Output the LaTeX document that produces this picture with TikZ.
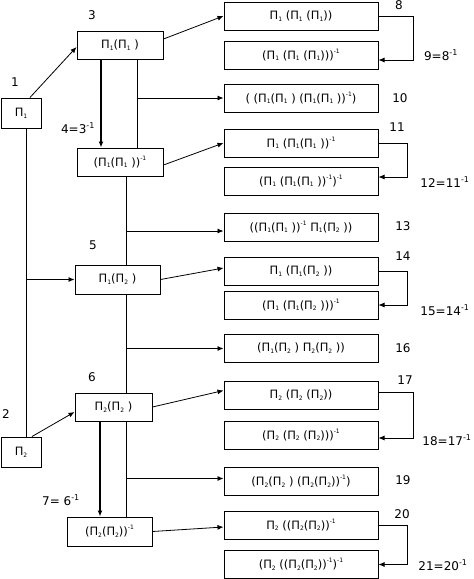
\documentclass[tikz,border=0pt]{standalone}
\usepackage{fontspec}
\setmainfont{DejaVu Sans}
\usetikzlibrary{arrows.meta}
\newcommand{\pone}{Π\raisebox{-0.3ex}{\fontsize{6}{6}\selectfont 1}}
\newcommand{\ptwo}{Π\raisebox{-0.3ex}{\fontsize{6}{6}\selectfont 2}}
\newcommand{\minv}{\raisebox{0.9ex}{\fontsize{6}{6}\selectfont -1}}
\newcommand{\lminv}{\textsuperscript{-1}}
\tikzset{
  box/.style={draw,line width=1pt,inner sep=0pt,minimum height=28pt,font=\fontsize{11.5}{12}\selectfont},
  rbox/.style={box,minimum width=154pt},
  lab/.style={inner sep=0pt,font=\fontsize{12}{13}\selectfont},
  arr/.style={-{Latex[length=6pt,width=5pt]},line width=0.8pt},
  ln/.style={line width=0.8pt}
}
\begin{document}
\begin{tikzpicture}[x=1pt,y=-1pt]
  \useasboundingbox (0,0) rectangle (474,579);
  % left column
  \node[box,minimum width=40pt,minimum height=30pt] (n1) at (21,113) {\pone};
  \node[box,minimum width=40pt,minimum height=30pt] (n2) at (21,452) {\ptwo};
  \node[box,minimum width=86pt] (n3) at (120,45) {\pone(\pone{} )};
  \node[box,minimum width=86pt] (n4) at (120,162) {(\pone(\pone{} ))\minv};
  \node[box,minimum width=85pt,minimum height=29pt] (n5) at (117.5,279.5) {\pone(\ptwo{} )};
  \node[box,minimum width=77pt] (n6) at (113.5,407) {\ptwo(\ptwo{} )};
  \node[box,minimum width=85pt,minimum height=29pt] (n7) at (109.5,531.5) {(\ptwo(\ptwo))\minv};
  % right column
  \node[rbox] (n8) at (301,16) {\pone{} (\pone{}  (\pone))};
  \node[rbox] (n9) at (301,55) {(\pone{} (\pone{}  (\pone)))\minv};
  \node[rbox] (n10) at (301,98) {( (\pone(\pone{} ) (\pone(\pone{} ))\minv)};
  \node[rbox] (n11) at (301,143) {\pone{} (\pone(\pone{} ))\minv};
  \node[rbox] (n12) at (301,181) {(\pone{} (\pone(\pone{} ))\minv)\minv};
  \node[rbox] (n13) at (301,227) {((\pone(\pone{} ))\minv{} \pone(\ptwo{} ))};
  \node[rbox] (n14) at (301,271) {\pone{} (\pone(\ptwo{} ))};
  \node[rbox] (n15) at (301,305) {(\pone{} (\pone(\ptwo{} )))\minv};
  \node[rbox] (n16) at (301,348.5) {(\pone(\ptwo{} ) \ptwo(\ptwo{} ))};
  \node[rbox] (n17) at (301,395.5) {\ptwo{} (\ptwo{}  (\ptwo))};
  \node[rbox] (n18) at (301,435) {(\ptwo{} (\ptwo{}  (\ptwo)))\minv};
  \node[rbox] (n19) at (301,481.5) {(\ptwo(\ptwo{} ) (\ptwo(\ptwo))\minv)};
  \node[rbox] (n20) at (301,525) {\ptwo{} ((\ptwo(\ptwo))\minv};
  \node[rbox] (n21) at (301,564.5) {(\ptwo{} ((\ptwo(\ptwo))\minv)\minv};
  % numbers
  \node[lab] at (15,82) {1};
  \node[lab] at (6,414) {2};
  \node[lab] at (92,15) {3};
  \node[lab] at (78,128) {4=3\lminv};
  \node[lab] at (93,245) {5};
  \node[lab] at (92,377) {6};
  \node[lab] at (61,500) {7= 6\lminv};
  \node[lab] at (399,5) {8};
  \node[lab] at (441,55) {9=8\lminv};
  \node[lab] at (400,98) {10};
  \node[lab] at (397,127) {11};
  \node[lab] at (445,182) {12=11\lminv};
  \node[lab] at (403,226) {13};
  \node[lab] at (403,256) {14};
  \node[lab] at (445,310) {15=14\lminv};
  \node[lab] at (403,348) {16};
  \node[lab] at (405,380) {17};
  \node[lab] at (447,440) {18=17\lminv};
  \node[lab] at (403,480) {19};
  \node[lab] at (402,514) {20};
  \node[lab] at (443,565) {21=20\lminv};
  % connectors
  \draw[arr] ([xshift=9pt]n1.north) -- ([yshift=-2pt]n3.west);
  \draw[ln] ([xshift=5pt]n1.south) -- ([xshift=5pt]n2.north);
  \draw[arr] ([xshift=5pt]n1.south |- n5.west) -- (n5.west);
  \draw[arr] ([xshift=11pt]n2.north) -- ([yshift=-5pt]n6.west);
  \draw[arr] ([yshift=6pt]n3.east) -- (n8.west);
  \draw[arr,line width=1.2pt] ([xshift=-19pt]n3.south) -- ([xshift=-19pt]n4.north);
  \draw[ln] ([xshift=17pt]n3.south) -- ([xshift=17pt]n4.north);
  \draw[arr] ([xshift=17pt]n3.south |- n10.west) -- (n10.west);
  \draw[arr] ([yshift=-3pt]n4.east) -- (n11.west);
  \draw[ln] ([xshift=6pt]n4.south) -- ([xshift=6pt]n4.south |- n5.north);
  \draw[arr] ([xshift=6pt,yshift=-4pt]n4.south |- n13.west) -- ([yshift=-4pt]n13.west);
  \draw[ln] ([xshift=8.5pt]n5.south) -- ([xshift=8.5pt]n5.south |- n6.north);
  \draw[arr] ([xshift=8.5pt]n5.south |- n16.west) -- (n16.west);
  \draw[arr] (n5.east) -- ([yshift=3pt]n14.west);
  \draw[arr] (n6.east) -- ([yshift=5pt]n17.west);
  \draw[arr,line width=1.2pt] ([xshift=-13.5pt]n6.south) -- ([xshift=-13.5pt]n6.south |- n7.north);
  \draw[ln] ([xshift=12.5pt]n6.south) -- ([xshift=12.5pt]n6.south |- n7.north);
  \draw[arr] ([xshift=12.5pt,yshift=3pt]n6.south |- n19.west) -- ([yshift=3pt]n19.west);
  \draw[arr] (n7.east) -- ([yshift=-2pt]n20.west);
  % loops
  \draw[arr] (n8.east) -- ++(35,0) |- ([yshift=-5pt]n9.east);
  \draw[arr] (n11.east) -- ++(29,0) |- ([yshift=4pt]n12.east);
  \draw[arr] (n14.east) -- ++(29,0) |- (n15.east);
  \draw[arr] ([yshift=3pt]n17.east) -- ++(35,0) |- ([yshift=-3pt]n18.east);
  \draw[arr] (n20.east) -- ++(29,0) |- (n21.east);
\end{tikzpicture}
\end{document}
